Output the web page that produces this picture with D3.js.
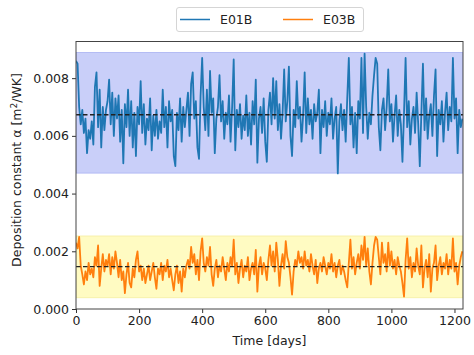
<!DOCTYPE html>
<html><head><meta charset="utf-8">
<script src="https://cdn.jsdelivr.net/npm/d3@7"></script>
<style>body{margin:0;background:#fff}svg{display:block}text{font-family:"DejaVu Sans",sans-serif}</style>
</head><body><svg id="c" width="474" height="355"></svg>
<script>
// values in units of 1e-3 m^2/WK, sampled every 5 days starting at day 0
const seriesNames = ["E01B", "E03B"];
const e01b = [
8.6,8.5,7.0,6.4,6.9,6.1,6.6,5.4,6.2,5.9, 6.5,5.7,7.7,8.2,6.3,7.6,5.6,7.0,6.2,6.9,
7.2,7.95,6.4,7.5,6.0,7.3,6.6,7.4,5.8,6.9, 5.05,7.1,6.3,7.6,6.0,7.2,5.6,6.8,5.3,7.0,
6.4,7.9,6.1,7.1,5.7,6.6,6.2,7.3,5.5,6.7, 6.0,6.9,5.9,6.5,6.1,7.6,6.3,7.0,5.6,7.2,
6.5,6.9,5.3,4.95,6.8,6.2,7.3,5.8,7.0,6.3, 6.9,7.5,6.0,7.8,8.2,6.6,7.2,5.6,5.2,7.4,
8.7,7.0,6.2,7.6,6.0,8.25,6.8,7.3,5.4,6.6, 7.0,8.1,6.5,7.2,5.9,6.8,6.4,7.4,5.8,7.0,
8.65,5.5,6.9,6.3,7.1,5.9,6.7,6.2,7.4,6.0, 6.8,5.7,7.2,6.4,7.95,5.07,6.6,7.0,6.1,7.3,
5.8,5.1,6.9,7.5,6.4,8.0,6.6,7.9,6.2,7.1, 5.9,6.8,8.3,6.5,7.2,8.4,6.0,5.3,6.9,6.3,
7.9,6.6,7.0,5.8,6.7,8.2,6.1,7.3,6.4,6.9, 5.9,7.1,6.5,6.8,7.6,5.4,6.9,6.3,7.2,6.0,
6.8,6.4,7.3,5.9,6.6,7.0,4.7,6.5,7.1,6.2, 6.9,5.8,7.3,8.7,6.4,7.0,5.6,6.8,5.4,7.2,
6.6,8.7,6.1,8.85,7.0,5.9,6.8,6.4,7.4,8.1, 8.7,8.5,6.3,5.5,6.9,7.3,6.2,7.0,8.3,6.5,
7.1,5.8,6.7,7.4,6.0,6.9,6.4,5.1,6.8,8.7, 6.3,7.2,5.7,6.6,7.0,6.1,7.5,6.4,4.95,6.8,
8.5,6.2,7.3,5.9,6.7,7.1,6.0,7.4,8.3,5.3, 6.9,6.4,7.2,5.8,6.8,7.5,6.2,7.0,6.5,8.7,
6.6,7.3,5.4,6.9,6.3,6.6
];
const e03b = [
2.3,2.1,2.5,1.5,1.2,0.85,1.3,1.0,1.6,1.2, 1.4,1.1,1.8,1.5,2.2,0.8,1.4,1.9,1.3,1.7,
1.5,1.9,1.2,1.8,1.4,2.0,1.6,1.1,1.7,1.0, 1.3,0.55,1.2,1.6,0.9,0.75,1.4,1.1,1.7,2.0,
1.3,1.5,1.0,1.4,0.9,1.2,1.5,1.0,1.3,1.6, 1.1,0.7,1.4,1.2,1.6,1.0,1.5,1.3,1.7,1.1,
1.4,1.0,0.65,1.2,1.5,0.9,1.3,0.6,1.4,1.1, 1.5,1.7,1.4,2.15,1.6,1.9,1.2,1.7,1.0,2.0,
2.45,1.6,1.3,1.8,1.5,2.15,1.2,0.8,1.4,1.7, 1.1,1.5,1.3,1.8,1.4,1.0,1.6,1.3,1.8,1.5,
2.4,1.2,1.6,0.9,1.4,1.7,1.1,1.5,1.3,1.8, 1.0,1.4,1.6,1.2,2.05,0.6,1.5,1.8,1.2,1.6,
1.4,1.0,1.7,2.2,1.5,2.0,1.3,2.3,1.7,0.8, 1.5,1.9,1.4,2.35,1.8,1.6,1.1,0.5,1.3,1.7,
1.5,2.0,1.6,1.8,1.4,2.0,1.5,1.7,1.3,1.9, 1.5,1.2,1.7,0.9,1.4,1.6,1.3,1.8,1.5,1.2,
1.6,1.4,1.9,1.3,1.6,1.1,1.5,1.7,1.2,1.5, 1.3,1.0,0.75,1.6,2.4,1.4,1.8,1.2,1.6,1.9,
1.4,2.2,1.7,2.5,1.5,2.1,1.3,0.85,1.6,2.2, 2.5,2.4,1.8,1.2,2.3,1.6,1.9,1.3,2.3,1.5,
2.0,1.4,1.7,1.2,1.8,1.5,1.3,0.9,0.43,1.7, 2.45,1.4,1.8,1.1,1.6,1.3,2.1,1.5,1.2,2.2,
0.75,1.4,1.7,1.1,1.9,0.6,1.4,1.6,2.2,1.0, 1.5,1.8,1.2,1.6,1.4,1.9,1.2,1.7,1.4,2.45,
1.3,1.6,0.85,1.5,1.8,2.0
];
const stepDays = 5;
const means = [6.73, 1.47];
const bandLow = [4.71, 0.39];
const bandHigh = [8.89, 2.53];
const xTicks = [0, 200, 400, 600, 800, 1000, 1200];
const yTicks = [0, 2, 4, 6, 8];
const colors = ["#1f77b4", "#ff7f0e"];
const bandColors = ["#c9cff9", "#fffbc2"];
const bandEdges = ["#a9b2f2", "#f5eea0"];

const svg = d3.select("#c");
const m = {l: 76, r: 463, t: 41.5, b: 309};
const x = d3.scaleLinear().domain([0, 1227]).range([m.l, m.r]);
const y = d3.scaleLinear().domain([0, 9.27]).range([m.b, m.t]);

svg.append("defs").append("clipPath").attr("id", "clip")
  .append("rect").attr("x", m.l).attr("y", m.t).attr("width", m.r - m.l).attr("height", m.b - m.t);
const g = svg.append("g").attr("clip-path", "url(#clip)");

[0, 1].forEach(i => {
  g.append("rect").attr("x", m.l).attr("width", m.r - m.l)
    .attr("y", y(bandHigh[i])).attr("height", y(bandLow[i]) - y(bandHigh[i]))
    .attr("fill", bandColors[i]).attr("stroke", bandEdges[i]).attr("stroke-width", 0.8);
});
const data = [e01b, e03b];
const line = d3.line().x((d, j) => x(j * stepDays)).y(d => y(d));
[0, 1].forEach(i => {
  g.append("path").datum(data[i]).attr("d", line).attr("fill", "none")
    .attr("stroke", colors[i]).attr("stroke-width", 1.8).attr("stroke-linejoin", "round");
});
[0, 1].forEach(i => {
  g.append("line").attr("x1", m.l).attr("x2", m.r).attr("y1", y(means[i])).attr("y2", y(means[i]))
    .attr("stroke", "#222").attr("stroke-width", 1.4).attr("stroke-dasharray", "4.5,2.5");
});

// axes
const xa = svg.append("g").attr("transform", `translate(0,${m.b})`)
  .call(d3.axisBottom(x).tickValues(xTicks).tickSize(4).tickPadding(3).tickFormat(d3.format("d")));
const ya = svg.append("g").attr("transform", `translate(${m.l},0)`)
  .call(d3.axisLeft(y).tickValues(yTicks).tickSize(4).tickPadding(3).tickFormat(d => (d / 1000).toFixed(3)));
[xa, ya].forEach(a => {
  a.select(".domain").remove();
  a.selectAll("line").attr("stroke", "#333");
  a.selectAll("text").attr("fill", "#222").style("font-size", "12.5px").style("font-family", "DejaVu Sans");
});
svg.append("rect").attr("x", m.l).attr("y", m.t).attr("width", m.r - m.l).attr("height", m.b - m.t)
  .attr("fill", "none").attr("stroke", "#444").attr("stroke-width", 1);

svg.append("text").attr("x", (m.l + m.r) / 2).attr("y", 345).attr("text-anchor", "middle")
  .style("font-size", "12.5px").attr("fill", "#222").text("Time [days]");
const yl = svg.append("text").attr("transform", `translate(21,170) rotate(-90)`)
  .attr("text-anchor", "middle").style("font-size", "12.5px").attr("fill", "#222");
yl.append("tspan").text("Deposition constant α [m");
yl.append("tspan").attr("dy", -4).style("font-size", "9px").text("2");
yl.append("tspan").attr("dy", 4).text("/WK]");

// legend
const lg = svg.append("g");
lg.append("rect").attr("x", 176.5).attr("y", 7.5).attr("width", 187).attr("height", 24).attr("rx", 2.5)
  .attr("fill", "#fff").attr("stroke", "#d5d5d5");
const lx = [180, 283];
seriesNames.forEach((n, i) => {
  lg.append("line").attr("x1", lx[i]).attr("x2", lx[i] + 30).attr("y1", 19.5).attr("y2", 19.5)
    .attr("stroke", colors[i]).attr("stroke-width", 1.5);
  lg.append("text").attr("x", lx[i] + 40).attr("y", 24).style("font-size", "12.5px").attr("fill", "#222").text(n);
});
</script></body></html>
